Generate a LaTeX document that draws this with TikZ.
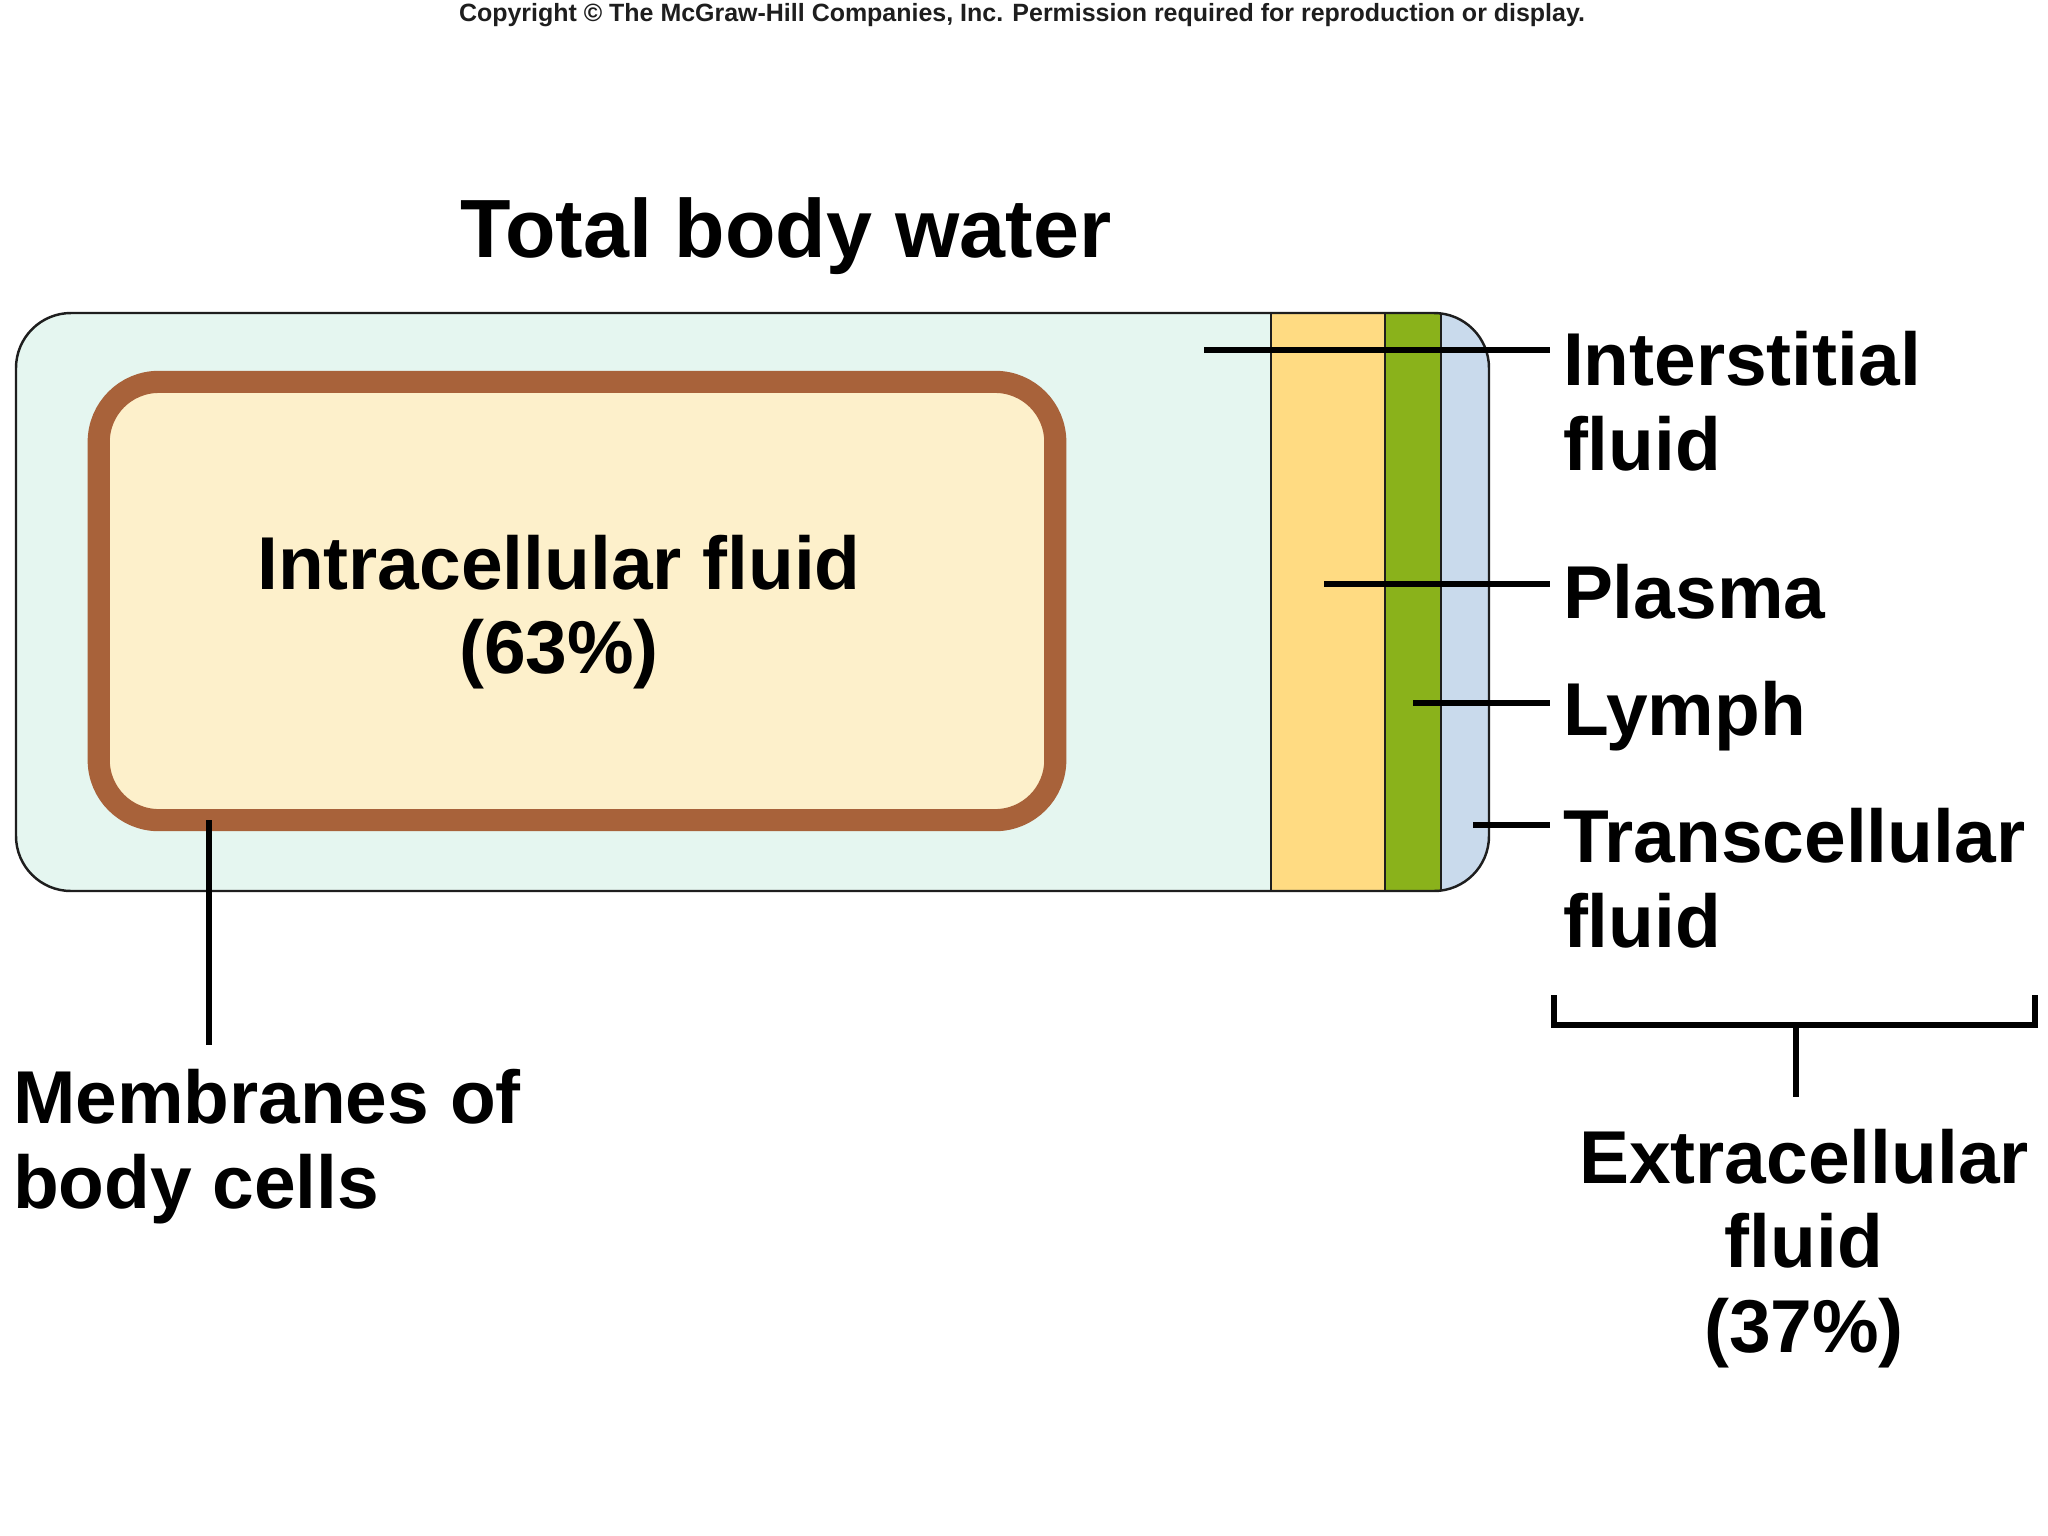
\documentclass[tikz,border=0pt]{standalone}
\usepackage{fontspec}
\setmainfont{Liberation Sans}
\usetikzlibrary{positioning}
\definecolor{ecfmint}{HTML}{E5F6F0}
\definecolor{icfcream}{HTML}{FDF0CB}
\definecolor{membrown}{HTML}{A8623A}
\definecolor{plasmayellow}{HTML}{FFDB82}
\definecolor{lymphgreen}{HTML}{8AB21B}
\definecolor{transblue}{HTML}{C9DAEC}
\definecolor{inkdark}{HTML}{1E1E1E}
\begin{document}
\begin{tikzpicture}[x=0.01cm, y=-0.01cm,
  lbl/.style={font=\fontsize{21.3}{23.9}\selectfont\bfseries, align=left, inner sep=0pt, outer xsep=3.7pt, anchor=base west},
  lead/.style={draw=black, line width=1.5pt},
  brk/.style={draw=black, line width=1.8pt},
  edge/.style={draw=inkdark, line width=0.7pt}]
\useasboundingbox[fill=white] (0,0) rectangle (2048,1536);
\node[font=\fontsize{7.1}{8}\selectfont\bfseries, inner sep=0pt, anchor=base, text=inkdark] (copy) at (1022,21) {Copyright \textcopyright\ The McGraw-Hill Companies, Inc. Permission required for reproduction or display.};
\node[font=\fontsize{23.5}{26}\selectfont\bfseries, inner sep=0pt, anchor=base west] (title) at (460,257) {Total body water};
\fill[ecfmint, rounded corners=0.55cm] (16,313) rectangle (1489,891);
\begin{scope}
  \clip[rounded corners=0.55cm] (16,313) rectangle (1489,891);
  \fill[plasmayellow] (1271,300) rectangle (1385,900);
  \fill[lymphgreen] (1385,300) rectangle (1441,900);
  \fill[transblue] (1441,300) rectangle (1500,900);
  \foreach \x in {1271,1385,1441} \draw[edge] (\x,300) -- (\x,900);
\end{scope}
\draw[edge, rounded corners=0.55cm] (16,313) rectangle (1489,891);
\node[draw=membrown, line width=6.3pt, fill=icfcream, rounded corners=0.6cm, minimum width=9.56cm, minimum height=4.38cm] (icf) at (577,601) {};
\node[lbl, align=center, anchor=center, outer sep=0pt] (icftxt) at (559,612) {Intracellular fluid\\(63\%)};
\node[lbl] (inter) at (1550,470) {Interstitial\\fluid};
\node[lbl] (plasma) at (1550,618) {Plasma};
\node[lbl] (lymph) at (1550,735) {Lymph};
\node[lbl] (trans) at (1550,947) {Transcellular\\fluid};
\node[lbl] (memb) at (0,1208) {Membranes of\\body cells};
\node[lbl, align=center, anchor=base] (ecf) at (1804,1352) {Extracellular\\fluid\\(37\%)};
\coordinate (iS) at (1204,350);
\coordinate (pS) at (1324,584);
\coordinate (lS) at (1413,703);
\coordinate (tS) at (1473,825);
\draw[lead] (iS) -- (iS -| inter.west); \draw[lead] (pS) -- (pS -| plasma.west);
\draw[lead] (lS) -- (lS -| lymph.west); \draw[lead] (tS) -- (tS -| trans.west);
\coordinate (mTop) at (209,820);
\coordinate (mBot) at (209,1045);
\draw[lead] (mTop) -- (mBot);
\coordinate (bL) at (1554,1025);
\coordinate (bR) at (2035,1025);
\coordinate (bM) at (1796,1025);
\coordinate (bS) at (1796,1097);
\draw[brk] (bL) ++(0,-30) -- (bL) -- (bR) -- ++(0,-30);
\draw[brk] (bM) -- (bS);
\end{tikzpicture}
\end{document}
